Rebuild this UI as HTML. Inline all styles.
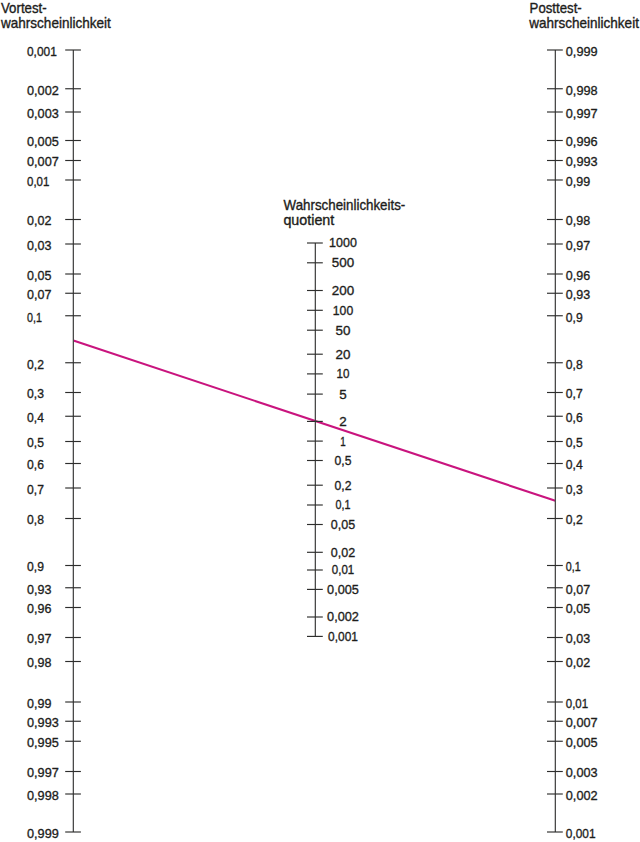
<!DOCTYPE html>
<html><head><meta charset="utf-8"><style>
html,body{margin:0;padding:0;background:#fff;width:640px;height:842px;overflow:hidden}
svg{display:block}
text{font-family:"Liberation Sans",sans-serif;font-size:13.6px;fill:#1d1d1b;stroke:#1d1d1b;stroke-width:0.35}
text.h{font-size:13.9px}
.ax{stroke:#4a4a49;stroke-width:1.3}
.tk{stroke:#2e2e2d;stroke-width:1.15}
.mg{stroke:#c9147e;stroke-width:2.1}
</style></head><body>
<svg width="640" height="842" viewBox="0 0 640 842">
<line x1="73.35" y1="340.5" x2="555.35" y2="500.8" class="mg"/>
<line x1="73.35" y1="50" x2="73.35" y2="832" class="ax"/>
<line x1="315.35" y1="243" x2="315.35" y2="636.4" class="ax"/>
<line x1="555.35" y1="50" x2="555.35" y2="832" class="ax"/>
<line x1="65.2" y1="50" x2="80.9" y2="50" class="tk"/>
<line x1="547.0" y1="50" x2="562.8" y2="50" class="tk"/>
<line x1="65.2" y1="88.75" x2="80.9" y2="88.75" class="tk"/>
<line x1="547.0" y1="88.75" x2="562.8" y2="88.75" class="tk"/>
<line x1="65.2" y1="112" x2="80.9" y2="112" class="tk"/>
<line x1="547.0" y1="112" x2="562.8" y2="112" class="tk"/>
<line x1="65.2" y1="140.5" x2="80.9" y2="140.5" class="tk"/>
<line x1="547.0" y1="140.5" x2="562.8" y2="140.5" class="tk"/>
<line x1="65.2" y1="160.5" x2="80.9" y2="160.5" class="tk"/>
<line x1="547.0" y1="160.5" x2="562.8" y2="160.5" class="tk"/>
<line x1="65.2" y1="180" x2="80.9" y2="180" class="tk"/>
<line x1="547.0" y1="180" x2="562.8" y2="180" class="tk"/>
<line x1="65.2" y1="219.5" x2="80.9" y2="219.5" class="tk"/>
<line x1="547.0" y1="219.5" x2="562.8" y2="219.5" class="tk"/>
<line x1="65.2" y1="244" x2="80.9" y2="244" class="tk"/>
<line x1="547.0" y1="244" x2="562.8" y2="244" class="tk"/>
<line x1="65.2" y1="274" x2="80.9" y2="274" class="tk"/>
<line x1="547.0" y1="274" x2="562.8" y2="274" class="tk"/>
<line x1="65.2" y1="293.25" x2="80.9" y2="293.25" class="tk"/>
<line x1="547.0" y1="293.25" x2="562.8" y2="293.25" class="tk"/>
<line x1="65.2" y1="315.75" x2="80.9" y2="315.75" class="tk"/>
<line x1="547.0" y1="315.75" x2="562.8" y2="315.75" class="tk"/>
<line x1="65.2" y1="362.75" x2="80.9" y2="362.75" class="tk"/>
<line x1="547.0" y1="362.75" x2="562.8" y2="362.75" class="tk"/>
<line x1="65.2" y1="392.5" x2="80.9" y2="392.5" class="tk"/>
<line x1="547.0" y1="392.5" x2="562.8" y2="392.5" class="tk"/>
<line x1="65.2" y1="416.25" x2="80.9" y2="416.25" class="tk"/>
<line x1="547.0" y1="416.25" x2="562.8" y2="416.25" class="tk"/>
<line x1="65.2" y1="441.5" x2="80.9" y2="441.5" class="tk"/>
<line x1="547.0" y1="441.5" x2="562.8" y2="441.5" class="tk"/>
<line x1="65.2" y1="463.5" x2="80.9" y2="463.5" class="tk"/>
<line x1="547.0" y1="463.5" x2="562.8" y2="463.5" class="tk"/>
<line x1="65.2" y1="488" x2="80.9" y2="488" class="tk"/>
<line x1="547.0" y1="488" x2="562.8" y2="488" class="tk"/>
<line x1="65.2" y1="518.5" x2="80.9" y2="518.5" class="tk"/>
<line x1="547.0" y1="518.5" x2="562.8" y2="518.5" class="tk"/>
<line x1="65.2" y1="565.5" x2="80.9" y2="565.5" class="tk"/>
<line x1="547.0" y1="565.5" x2="562.8" y2="565.5" class="tk"/>
<line x1="65.2" y1="587.75" x2="80.9" y2="587.75" class="tk"/>
<line x1="547.0" y1="587.75" x2="562.8" y2="587.75" class="tk"/>
<line x1="65.2" y1="607.5" x2="80.9" y2="607.5" class="tk"/>
<line x1="547.0" y1="607.5" x2="562.8" y2="607.5" class="tk"/>
<line x1="65.2" y1="637.5" x2="80.9" y2="637.5" class="tk"/>
<line x1="547.0" y1="637.5" x2="562.8" y2="637.5" class="tk"/>
<line x1="65.2" y1="661.5" x2="80.9" y2="661.5" class="tk"/>
<line x1="547.0" y1="661.5" x2="562.8" y2="661.5" class="tk"/>
<line x1="65.2" y1="702" x2="80.9" y2="702" class="tk"/>
<line x1="547.0" y1="702" x2="562.8" y2="702" class="tk"/>
<line x1="65.2" y1="721.25" x2="80.9" y2="721.25" class="tk"/>
<line x1="547.0" y1="721.25" x2="562.8" y2="721.25" class="tk"/>
<line x1="65.2" y1="741.25" x2="80.9" y2="741.25" class="tk"/>
<line x1="547.0" y1="741.25" x2="562.8" y2="741.25" class="tk"/>
<line x1="65.2" y1="771.5" x2="80.9" y2="771.5" class="tk"/>
<line x1="547.0" y1="771.5" x2="562.8" y2="771.5" class="tk"/>
<line x1="65.2" y1="794" x2="80.9" y2="794" class="tk"/>
<line x1="547.0" y1="794" x2="562.8" y2="794" class="tk"/>
<line x1="65.2" y1="832" x2="80.9" y2="832" class="tk"/>
<line x1="547.0" y1="832" x2="562.8" y2="832" class="tk"/>
<line x1="307.0" y1="243" x2="322.8" y2="243" class="tk"/>
<line x1="307.0" y1="262.8" x2="322.8" y2="262.8" class="tk"/>
<line x1="307.0" y1="290.5" x2="322.8" y2="290.5" class="tk"/>
<line x1="307.0" y1="310.3" x2="322.8" y2="310.3" class="tk"/>
<line x1="307.0" y1="330.2" x2="322.8" y2="330.2" class="tk"/>
<line x1="307.0" y1="354.2" x2="322.8" y2="354.2" class="tk"/>
<line x1="307.0" y1="373.9" x2="322.8" y2="373.9" class="tk"/>
<line x1="307.0" y1="394.1" x2="322.8" y2="394.1" class="tk"/>
<line x1="307.0" y1="421.4" x2="322.8" y2="421.4" class="tk"/>
<line x1="307.0" y1="441.1" x2="322.8" y2="441.1" class="tk"/>
<line x1="307.0" y1="460.5" x2="322.8" y2="460.5" class="tk"/>
<line x1="307.0" y1="485.2" x2="322.8" y2="485.2" class="tk"/>
<line x1="307.0" y1="505" x2="322.8" y2="505" class="tk"/>
<line x1="307.0" y1="524.5" x2="322.8" y2="524.5" class="tk"/>
<line x1="307.0" y1="552.3" x2="322.8" y2="552.3" class="tk"/>
<line x1="307.0" y1="570" x2="322.8" y2="570" class="tk"/>
<line x1="307.0" y1="589.4" x2="322.8" y2="589.4" class="tk"/>
<line x1="307.0" y1="617" x2="322.8" y2="617" class="tk"/>
<line x1="307.0" y1="636.4" x2="322.8" y2="636.4" class="tk"/>
<text x="27.0" y="55.80" textLength="29.80" lengthAdjust="spacingAndGlyphs">0,001</text>
<text x="27.0" y="94.55" textLength="31.80" lengthAdjust="spacingAndGlyphs">0,002</text>
<text x="27.0" y="117.80" textLength="31.80" lengthAdjust="spacingAndGlyphs">0,003</text>
<text x="27.0" y="146.30" textLength="31.80" lengthAdjust="spacingAndGlyphs">0,005</text>
<text x="27.0" y="166.30" textLength="31.80" lengthAdjust="spacingAndGlyphs">0,007</text>
<text x="27.0" y="185.80" textLength="22.35" lengthAdjust="spacingAndGlyphs">0,01</text>
<text x="27.0" y="225.30" textLength="24.35" lengthAdjust="spacingAndGlyphs">0,02</text>
<text x="27.0" y="249.80" textLength="24.35" lengthAdjust="spacingAndGlyphs">0,03</text>
<text x="27.0" y="279.80" textLength="24.35" lengthAdjust="spacingAndGlyphs">0,05</text>
<text x="27.0" y="299.05" textLength="24.35" lengthAdjust="spacingAndGlyphs">0,07</text>
<text x="27.0" y="321.55" textLength="14.90" lengthAdjust="spacingAndGlyphs">0,1</text>
<text x="27.0" y="368.55" textLength="16.90" lengthAdjust="spacingAndGlyphs">0,2</text>
<text x="27.0" y="398.30" textLength="16.90" lengthAdjust="spacingAndGlyphs">0,3</text>
<text x="27.0" y="422.05" textLength="16.90" lengthAdjust="spacingAndGlyphs">0,4</text>
<text x="27.0" y="447.30" textLength="16.90" lengthAdjust="spacingAndGlyphs">0,5</text>
<text x="27.0" y="469.30" textLength="16.90" lengthAdjust="spacingAndGlyphs">0,6</text>
<text x="27.0" y="493.80" textLength="16.90" lengthAdjust="spacingAndGlyphs">0,7</text>
<text x="27.0" y="524.30" textLength="16.90" lengthAdjust="spacingAndGlyphs">0,8</text>
<text x="27.0" y="571.30" textLength="16.90" lengthAdjust="spacingAndGlyphs">0,9</text>
<text x="27.0" y="593.55" textLength="24.35" lengthAdjust="spacingAndGlyphs">0,93</text>
<text x="27.0" y="613.30" textLength="24.35" lengthAdjust="spacingAndGlyphs">0,96</text>
<text x="27.0" y="643.30" textLength="24.35" lengthAdjust="spacingAndGlyphs">0,97</text>
<text x="27.0" y="667.30" textLength="24.35" lengthAdjust="spacingAndGlyphs">0,98</text>
<text x="27.0" y="707.80" textLength="24.35" lengthAdjust="spacingAndGlyphs">0,99</text>
<text x="27.0" y="727.05" textLength="31.80" lengthAdjust="spacingAndGlyphs">0,993</text>
<text x="27.0" y="747.05" textLength="31.80" lengthAdjust="spacingAndGlyphs">0,995</text>
<text x="27.0" y="777.30" textLength="31.80" lengthAdjust="spacingAndGlyphs">0,997</text>
<text x="27.0" y="799.80" textLength="31.80" lengthAdjust="spacingAndGlyphs">0,998</text>
<text x="27.0" y="837.80" textLength="31.80" lengthAdjust="spacingAndGlyphs">0,999</text>
<text x="565.8" y="55.80" textLength="31.80" lengthAdjust="spacingAndGlyphs">0,999</text>
<text x="565.8" y="94.55" textLength="31.80" lengthAdjust="spacingAndGlyphs">0,998</text>
<text x="565.8" y="117.80" textLength="31.80" lengthAdjust="spacingAndGlyphs">0,997</text>
<text x="565.8" y="146.30" textLength="31.80" lengthAdjust="spacingAndGlyphs">0,996</text>
<text x="565.8" y="166.30" textLength="31.80" lengthAdjust="spacingAndGlyphs">0,993</text>
<text x="565.8" y="185.80" textLength="24.35" lengthAdjust="spacingAndGlyphs">0,99</text>
<text x="565.8" y="225.30" textLength="24.35" lengthAdjust="spacingAndGlyphs">0,98</text>
<text x="565.8" y="249.80" textLength="24.35" lengthAdjust="spacingAndGlyphs">0,97</text>
<text x="565.8" y="279.80" textLength="24.35" lengthAdjust="spacingAndGlyphs">0,96</text>
<text x="565.8" y="299.05" textLength="24.35" lengthAdjust="spacingAndGlyphs">0,93</text>
<text x="565.8" y="321.55" textLength="16.90" lengthAdjust="spacingAndGlyphs">0,9</text>
<text x="565.8" y="368.55" textLength="16.90" lengthAdjust="spacingAndGlyphs">0,8</text>
<text x="565.8" y="398.30" textLength="16.90" lengthAdjust="spacingAndGlyphs">0,7</text>
<text x="565.8" y="422.05" textLength="16.90" lengthAdjust="spacingAndGlyphs">0,6</text>
<text x="565.8" y="447.30" textLength="16.90" lengthAdjust="spacingAndGlyphs">0,5</text>
<text x="565.8" y="469.30" textLength="16.90" lengthAdjust="spacingAndGlyphs">0,4</text>
<text x="565.8" y="493.80" textLength="16.90" lengthAdjust="spacingAndGlyphs">0,3</text>
<text x="565.8" y="524.30" textLength="16.90" lengthAdjust="spacingAndGlyphs">0,2</text>
<text x="565.8" y="571.30" textLength="14.90" lengthAdjust="spacingAndGlyphs">0,1</text>
<text x="565.8" y="593.55" textLength="24.35" lengthAdjust="spacingAndGlyphs">0,07</text>
<text x="565.8" y="613.30" textLength="24.35" lengthAdjust="spacingAndGlyphs">0,05</text>
<text x="565.8" y="643.30" textLength="24.35" lengthAdjust="spacingAndGlyphs">0,03</text>
<text x="565.8" y="667.30" textLength="24.35" lengthAdjust="spacingAndGlyphs">0,02</text>
<text x="565.8" y="707.80" textLength="22.35" lengthAdjust="spacingAndGlyphs">0,01</text>
<text x="565.8" y="727.05" textLength="31.80" lengthAdjust="spacingAndGlyphs">0,007</text>
<text x="565.8" y="747.05" textLength="31.80" lengthAdjust="spacingAndGlyphs">0,005</text>
<text x="565.8" y="777.30" textLength="31.80" lengthAdjust="spacingAndGlyphs">0,003</text>
<text x="565.8" y="799.80" textLength="31.80" lengthAdjust="spacingAndGlyphs">0,002</text>
<text x="565.8" y="837.80" textLength="29.80" lengthAdjust="spacingAndGlyphs">0,001</text>
<text x="329.10" y="247.40" textLength="27.80" lengthAdjust="spacingAndGlyphs">1000</text>
<text x="331.82" y="267.20" textLength="22.35" lengthAdjust="spacingAndGlyphs">500</text>
<text x="331.82" y="294.90" textLength="22.35" lengthAdjust="spacingAndGlyphs">200</text>
<text x="332.82" y="314.70" textLength="20.35" lengthAdjust="spacingAndGlyphs">100</text>
<text x="335.55" y="334.60" textLength="14.90" lengthAdjust="spacingAndGlyphs">50</text>
<text x="335.55" y="358.60" textLength="14.90" lengthAdjust="spacingAndGlyphs">20</text>
<text x="336.55" y="378.30" textLength="12.90" lengthAdjust="spacingAndGlyphs">10</text>
<text x="339.27" y="398.50" textLength="7.45" lengthAdjust="spacingAndGlyphs">5</text>
<text x="339.27" y="425.80" textLength="7.45" lengthAdjust="spacingAndGlyphs">2</text>
<text x="340.27" y="445.50" textLength="5.45" lengthAdjust="spacingAndGlyphs">1</text>
<text x="334.55" y="464.90" textLength="16.90" lengthAdjust="spacingAndGlyphs">0,5</text>
<text x="334.55" y="489.60" textLength="16.90" lengthAdjust="spacingAndGlyphs">0,2</text>
<text x="335.55" y="509.40" textLength="14.90" lengthAdjust="spacingAndGlyphs">0,1</text>
<text x="330.82" y="528.90" textLength="24.35" lengthAdjust="spacingAndGlyphs">0,05</text>
<text x="330.82" y="556.70" textLength="24.35" lengthAdjust="spacingAndGlyphs">0,02</text>
<text x="331.82" y="574.40" textLength="22.35" lengthAdjust="spacingAndGlyphs">0,01</text>
<text x="327.10" y="593.80" textLength="31.80" lengthAdjust="spacingAndGlyphs">0,005</text>
<text x="327.10" y="621.40" textLength="31.80" lengthAdjust="spacingAndGlyphs">0,002</text>
<text x="328.10" y="640.80" textLength="29.80" lengthAdjust="spacingAndGlyphs">0,001</text>
<text class="h" x="1.0" y="12.5" textLength="45.7" lengthAdjust="spacingAndGlyphs">Vortest-</text>
<text class="h" x="1.0" y="27.6" textLength="109.8" lengthAdjust="spacingAndGlyphs">wahrscheinlichkeit</text>
<text class="h" x="529.6" y="12.5" textLength="52.1" lengthAdjust="spacingAndGlyphs">Posttest-</text>
<text class="h" x="529.3" y="27.6" textLength="109.6" lengthAdjust="spacingAndGlyphs">wahrscheinlichkeit</text>
<text class="h" x="283.6" y="209.7" textLength="121.7" lengthAdjust="spacingAndGlyphs">Wahrscheinlichkeits-</text>
<text class="h" x="283.4" y="225.1" textLength="50.9" lengthAdjust="spacingAndGlyphs">quotient</text>
</svg>
</body></html>
